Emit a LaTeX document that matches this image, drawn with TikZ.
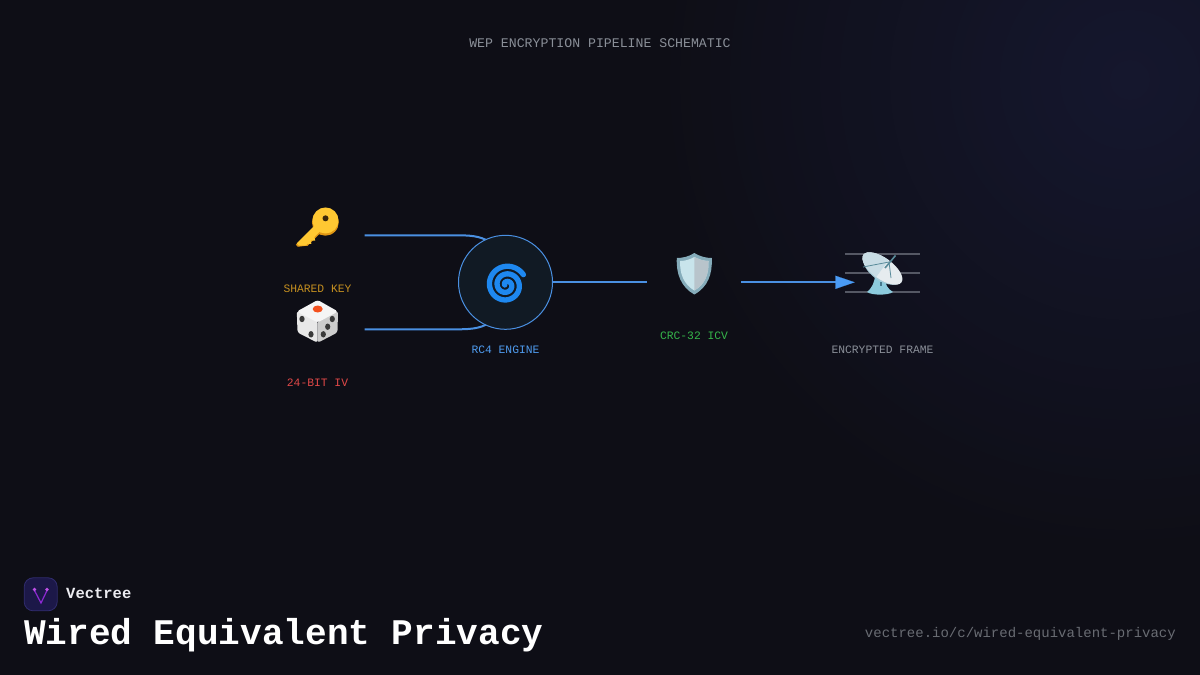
\documentclass[tikz,border=0pt]{standalone}
\usepackage{fontspec}
\setmainfont{Liberation Mono}
\usetikzlibrary{arrows.meta}
\pgfdeclarelayer{bglayer}\pgfdeclarelayer{edgelayer}
\pgfsetlayers{bglayer,edgelayer,main}
\definecolor{basebg}{HTML}{0E0E16}
\definecolor{glowc}{HTML}{15172E}
\definecolor{circfill}{HTML}{111A24}
\definecolor{wire}{HTML}{4A90E2}
\definecolor{arrowblue}{HTML}{4A9BF5}
\definecolor{amberlab}{HTML}{C48F20}
\definecolor{redlab}{HTML}{E04848}
\definecolor{bluelab}{HTML}{4F9CF0}
\definecolor{greenlab}{HTML}{35B54A}
\definecolor{graylab}{HTML}{8A8F98}
\definecolor{stripe}{HTML}{555864}
\definecolor{keydark}{HTML}{E09614}
\definecolor{keylight}{HTML}{FFC832}
\definecolor{keyhole}{HTML}{3C280A}
\definecolor{dicetop}{HTML}{F5F5F5}
\definecolor{diceleft}{HTML}{E8E8E8}
\definecolor{diceright}{HTML}{CDCDCD}
\definecolor{dicered}{HTML}{F4511E}
\definecolor{dicepip}{HTML}{3A3A3A}
\definecolor{swirl}{HTML}{1E88F0}
\definecolor{shieldrim}{HTML}{85ACBA}
\definecolor{shieldl}{HTML}{C8E4EB}
\definecolor{shieldr}{HTML}{B8C4CB}
\definecolor{dishbase}{HTML}{8CCBDD}
\definecolor{dishshadow}{HTML}{46788C}
\definecolor{dishrim}{HTML}{A8CCD8}
\definecolor{dishface}{HTML}{E6ECEF}
\definecolor{dishleft}{HTML}{C9DDE5}
\definecolor{dishfeed}{HTML}{5A8C9B}
\definecolor{logoedge}{HTML}{302C6E}
\definecolor{logofill}{HTML}{1C1848}
\definecolor{logov}{HTML}{8C28D2}
\definecolor{logodot}{HTML}{BE50E6}
\definecolor{brandtxt}{HTML}{EBEBF0}
\definecolor{urltxt}{HTML}{696C73}
\tikzset{
  iconbox/.style={minimum width=94pt,minimum height=94pt,inner sep=0pt,draw=none},
  lab/.style={font=\fontsize{11.33}{13}\selectfont,inner sep=0pt,anchor=center},
  wireline/.style={draw=wire,line width=2pt},
}
\begin{document}
\begin{tikzpicture}[x=1pt,y=-1pt]
\useasboundingbox (0,0) rectangle (1200,675);
\begin{pgfonlayer}{bglayer}
\fill[basebg] (0,0) rectangle (1200,675);
\begin{scope}
\clip (0,0) rectangle (1200,675);
\foreach \i in {48,47,...,1}{
  \pgfmathsetmacro{\p}{100*(1-\i/48)}
  \fill[glowc!\p!basebg] (1130,80) circle ({\i*10});
}
\end{scope}
\end{pgfonlayer}

% nodes
\node[iconbox] (key) at (317.5,235.3) {};
\node[iconbox] (dice) at (317.5,329.3) {};
\node[circle,minimum size=94pt,inner sep=0pt,draw=wire,line width=1pt,fill=circfill] (rc4) at (505.5,282.3) {};
\node[iconbox] (icv) at (694,282.3) {};
\coordinate (tip) at (854.5,282.3);

% connectors
\begin{pgfonlayer}{edgelayer}
\draw[wireline] (key.east) -- ++(94,0) .. controls +(30,0) and +(-5,-40) .. (rc4.center);
\draw[wireline] (dice.east) -- ++(94,0) .. controls +(30,0) and +(-5,40) .. (rc4.center);
\draw[wireline] (rc4.east) -- (icv.west);
\end{pgfonlayer}

% frame stripes
\draw[stripe,line width=1.3pt] (845,254) -- (920,254) (845,273) -- (920,273) (845,292) -- (920,292);
\draw[wireline] (icv.east) -- (840,282.3);
\draw[draw=arrowblue,fill=arrowblue,line width=.1pt] (tip) -- (835.5,275.8) -- (835.5,288.8) -- cycle;

% key emoji
\begin{scope}[shift={(325.5,221.3)},rotate=-45]
 \fill[keydark] (0.6,0.8) circle (13.4);
 \fill[keydark] (-4.2,10) -- (4.6,10) -- (4.6,30) -- (2,33) -- (-1.5,37.5) -- (-4.4,37.5) -- cycle;
 \fill[keylight] (-0.6,-0.6) circle (13);
 \fill[keylight] (-4.8,8) -- (3.2,8) -- (3.2,19) -- (6.5,21) -- (3.2,24) -- (6,26) -- (3.2,28.5) -- (3.2,31) -- (-1.5,36) -- (-4.8,36) -- cycle;
 \fill[keyhole] (-2.1,-2.1) circle (3);
\end{scope}

% dice emoji
\begin{scope}[rounded corners=2.5pt]
\fill[diceleft] (296.8,311) -- (317.7,321) -- (317.7,342.8) -- (297.5,332.5) -- cycle;
\fill[diceright] (338,311) -- (317.7,321) -- (317.7,342.8) -- (337.5,332.5) -- cycle;
\fill[dicetop] (317.7,300) -- (338,311.5) -- (317.7,322.5) -- (296.8,311.5) -- cycle;
\end{scope}
\fill[dicered] (317.7,309) ellipse (5 and 3.5);
\foreach \px/\py in {302/319,311/334.3,332.3/319,327.7/326.7,323.3/334.3}
  \fill[dicepip] (\px,\py) ellipse (2.6 and 3.2);

% swirl emoji
\draw[swirl,line width=5.3pt,line cap=round,smooth,samples=120,domain=0:1]
  plot ({506.3+(1.5+18.5*\x)*cos(900-870*\x)},{285-(1.5+18.5*\x)*sin(900-870*\x)});

% shield emoji
\fill[shieldrim] (694.3,253) .. controls (700,256.5) and (706,258) .. (711.8,258) .. controls (712.5,274) and (708,287) .. (694.3,294.5) .. controls (681,287) and (676,274) .. (676.8,258) .. controls (683,258) and (689,256.5) .. (694.3,253) -- cycle;
\fill[shieldl] (694.3,257) .. controls (699,259.5) and (704,261) .. (708.5,261) .. controls (709,274) and (705,284.5) .. (694.3,290.5) .. controls (684,284.5) and (679.5,274) .. (680.2,261) .. controls (685,261) and (690,259.5) .. (694.3,257) -- cycle;
\fill[shieldr] (694.3,257) .. controls (699,259.5) and (704,261) .. (708.5,261) .. controls (709,274) and (705,284.5) .. (694.3,290.5) -- cycle;

% dish emoji
\fill[dishbase] (875,274) -- (885,278) .. controls (885,285) and (888,289) .. (893,292) .. controls (888,295.5) and (872,295.5) .. (867,292) .. controls (872,288) and (875,282) .. (875,274) -- cycle;
\fill[dishshadow] (879.5,282) rectangle (882,286);
\begin{scope}[shift={(882.4,268.5)},rotate=-36]
 \fill[dishrim] (-23.5,0) .. controls (-18,16) and (18,16) .. (23.5,0) -- cycle;
 \fill[dishface] (0,0) ellipse (23.5 and 10.5);
 \begin{scope}
  \clip (-23.5,-11) rectangle (0,11);
  \fill[dishleft] (0,0) ellipse (23.5 and 10.5);
 \end{scope}
\end{scope}
\draw[dishfeed,line width=.8pt] (863,267) -- (889,262);
\draw[dishfeed,line width=.8pt] (889,262) -- (891,278);
\draw[dishfeed,line width=1.6pt] (885,268) -- (895.5,255.5);

% labels
\node[font=\fontsize{13.2}{15}\selectfont,text=graylab,inner sep=0pt] (heading) at (600,43) {WEP ENCRYPTION PIPELINE SCHEMATIC};
\node[lab,text=amberlab] (l1) at (317.5,288.5) {SHARED KEY};
\node[lab,text=redlab] (l2) at (317.5,382.5) {24-BIT IV};
\node[lab,text=bluelab] (l3) at (505.5,349.5) {RC4 ENGINE};
\node[lab,text=greenlab] (l4) at (694,335.5) {CRC-32 ICV};
\node[lab,text=graylab] (l5) at (882.5,349.5) {ENCRYPTED FRAME};

% brand
\node[draw=logoedge,fill=logofill,rounded corners=9pt,minimum size=33pt,inner sep=0pt,line width=.8pt] (logo) at (40.7,594.3) {};
\draw[logov,line width=1.2pt] (34.5,590.5) -- (41,603) -- (47,590.5);
\fill[logodot] (34.5,589.5) circle (1.8) (47,589.5) circle (1.8);
\node[font=\bfseries\fontsize{15.5}{18}\selectfont,text=brandtxt,inner sep=0pt,anchor=west] (brand) at (66,593.5) {Vectree};
\node[font=\bfseries\fontsize{36.05}{40}\selectfont,text=white,inner sep=0pt,anchor=base west] (title) at (24,644.5) {Wired Equivalent Privacy};
\node[font=\fontsize{14}{16}\selectfont,text=urltxt,inner sep=0pt,anchor=base east] (url) at (1176,637) {vectree.io/c/wired-equivalent-privacy};
\end{tikzpicture}
\end{document}
